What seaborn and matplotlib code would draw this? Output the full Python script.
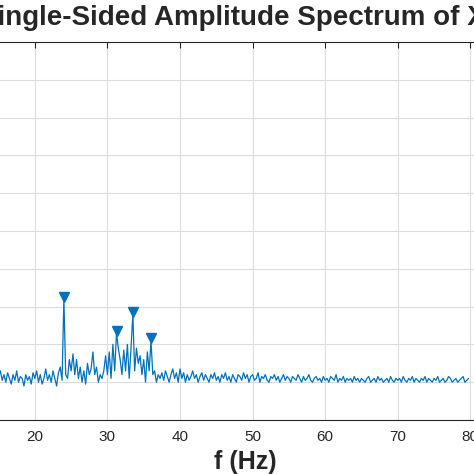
import numpy as np
import matplotlib
matplotlib.use("Agg")
import matplotlib.pyplot as plt
import seaborn as sns

f_start = 15.0
f_step = 0.25
amp = [
1.15,1.3,1.05,1.2,1.0,1.25,1.1,0.95,1.2,1.05,1.3,1.0,1.15,1.1,0.9,1.2,1.05,1.15,0.95,1.25,
1.1,1.3,1.0,1.2,0.95,1.1,1.35,1.05,1.2,1.0,1.3,1.1,0.9,1.25,1.4,1.05,
3.2,
1.2,1.1,1.6,1.3,1.75,1.2,1.6,1.1,1.4,1.0,1.3,0.95,1.5,1.2,1.35,1.8,1.2,1.4,1.0,1.2,1.1,1.3,1.7,
1.2,1.8,1.1,2.0,1.3,
2.3,
1.9,1.6,1.2,1.85,1.3,2.0,1.1,1.9,
2.8,
1.3,1.9,1.5,1.7,1.2,1.6,1.0,1.8,1.3,
2.1,
1.2,1.3,1.0,1.2,1.1,1.25,1.05,1.3,1.15,1.0,1.2,1.35,1.1,1.25,1.0,
1.35,1.1,1.25,1.0,1.2,1.05,1.15,1.3,1.1,1.2,1.0,1.15,1.25,1.05,1.2,1.1,1.0,1.2,1.1,1.25,
1.05,1.15,1.0,1.2,1.1,1.25,1.05,1.15,1.0,1.2,1.1,1.0,1.2,1.15,1.05,1.25,1.1,1.2,1.0,1.15,
1.2,1.05,1.1,1.25,1.0,1.15,1.1,1.2,1.05,1.0,1.15,1.1,1.2,1.05,1.15,1.0,1.1,1.2,1.05,1.15,
1.1,1.0,1.15,1.1,1.05,1.2,1.1,1.0,1.15,1.05,1.1,1.2,1.05,1.0,1.1,1.15,1.05,1.1,1.0,1.15,
1.05,1.1,1.0,1.15,1.1,1.05,1.2,1.0,1.1,1.05,1.15,1.0,1.1,1.05,1.1,1.0,1.15,1.05,1.1,1.0,
1.1,1.05,1.0,1.1,1.15,1.0,1.05,1.1,1.0,1.15,1.05,1.1,1.0,1.05,1.1,1.0,1.15,1.05,1.0,1.1,
1.05,1.1,1.0,1.15,1.05,1.0,1.1,1.05,1.15,1.0,1.1,1.05,1.0,1.1,1.05,1.15,1.0,1.1,1.05,1.0,
1.1,1.05,1.15,1.0,1.05,1.1,1.0,1.05,1.15,1.1,1.0,1.05,1.1,1.0,1.05,1.1,1.15,1.0,1.05,1.1,
]
freq = [f_start + i * f_step for i in range(len(amp))]
peak_f = [24.0, 31.25, 33.5, 36.0]
peak_a = [3.2, 2.3, 2.8, 2.1]

sns.set_style("white")
plt.rcParams['font.family'] = ['Liberation Sans', 'DejaVu Sans']
fig = plt.figure(figsize=(4.74, 4.74), dpi=100)
ax = fig.add_axes([0, 54/474, 1, 378/474])
c = "#0072BD"
sns.lineplot(x=freq, y=amp, ax=ax, color=c, linewidth=0.9)
ax.plot(peak_f, [a + 0.06 for a in peak_a], linestyle="none", marker="v", color=c, markersize=7)
ax.set_xlim(15.2, 80.5)
ax.set_ylim(0, 10)
ax.set_xticks([20, 30, 40, 50, 60, 70, 80])
ax.set_yticks(range(0, 11))
ax.set_yticklabels([])
ax.grid(True, color="#dcdcdc", linewidth=0.8)
for s in ["left", "right"]:
    ax.spines[s].set_visible(False)
for s in ["top", "bottom"]:
    ax.spines[s].set_color("#262626")
    ax.spines[s].set_linewidth(0.8)
ax.tick_params(axis="x", direction="in", length=4, labelsize=11, labelcolor="#262626", colors="#262626", top=True, pad=7)
ax.tick_params(axis="y", length=0)
fig.text(-0.044, 0.962, "Single-Sided Amplitude Spectrum of X(t)", fontsize=20, fontweight="bold", ha="left", va="center")
fig.text(0.517, 0.025, "f (Hz)", fontsize=18, fontweight="bold", ha="center", va="center")
fig.savefig("out.png", dpi=100)
